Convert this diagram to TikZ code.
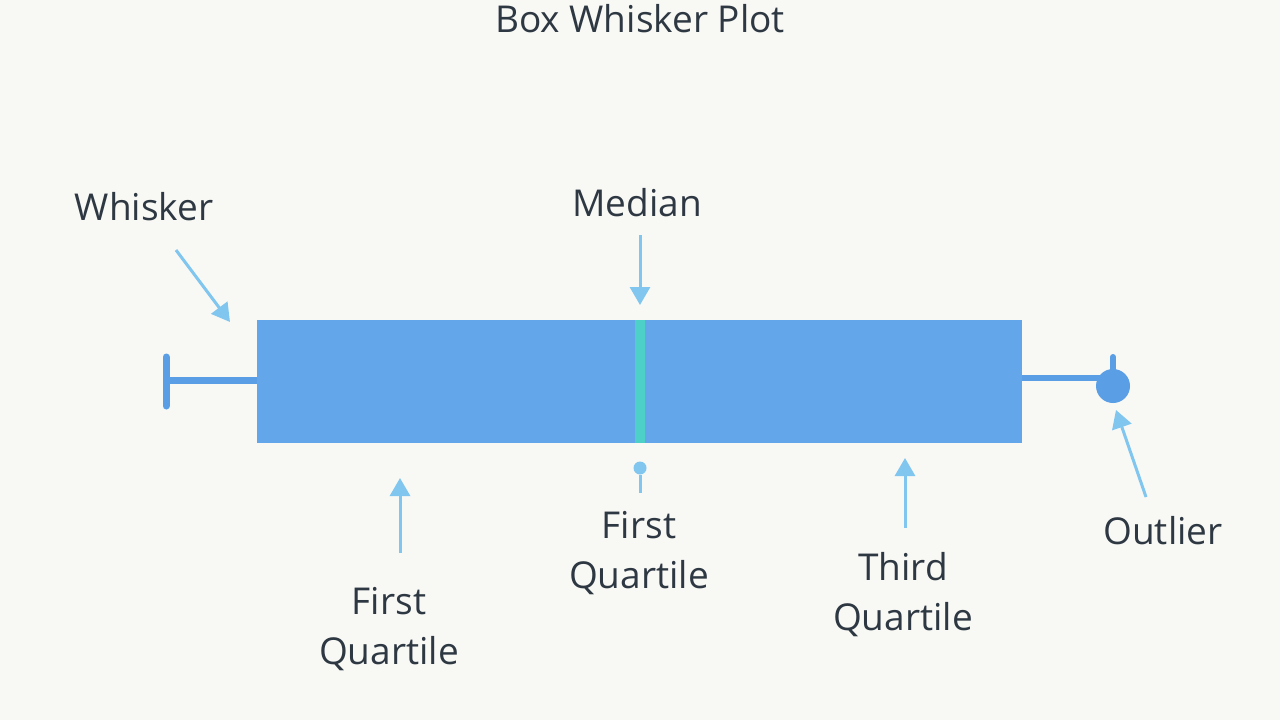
\documentclass[tikz,border=0pt]{standalone}
\usepackage{fontspec}
\setmainfont{Open Sans}
\usetikzlibrary{arrows.meta}
\definecolor{bg}{HTML}{F8F8F5}
\definecolor{boxc}{HTML}{63A7EA}
\definecolor{wc}{HTML}{5A9EE6}
\definecolor{arr}{HTML}{80C6EE}
\definecolor{medc}{HTML}{4CD0C8}
\definecolor{txt}{HTML}{2E3842}
\begin{document}
\begin{tikzpicture}[x=1pt,y=-1pt,
  lbl/.style={text=txt,font=\fontsize{37}{50}\selectfont,align=center,inner sep=0},
  pointer/.style={draw=arr,line width=3,-{Triangle[length=18,width=20]}}]
\fill[bg] (0,0) rectangle (1280,720);
\useasboundingbox (0,0) rectangle (1280,720);
\node[lbl] (title) at (640,19) {Box Whisker Plot};
\fill[boxc] (257,320) rectangle (1022,443);
\node[fill=medc,minimum width=10,minimum height=123,inner sep=0] (med) at (640,381.5) {};
\draw[wc,line width=7] (166,380) -- (257,380);
\draw[wc,line width=7,line cap=round] (166,357) -- (166,406);
\draw[wc,line width=6] (1022,378) -- (1105,378);
\draw[wc,line width=6,line cap=round] (1113,357) -- (1113,372);
\node[circle,fill=wc,minimum size=34,inner sep=0] (out) at (1113,386) {};
\node[lbl] (lw) at (144,207) {Whisker};
\node[lbl] (lm) at (637,203) {Median};
\node[lbl] (lq1) at (389,629) {First\\Quartile};
\node[lbl] (lq2) at (639,553) {First\\Quartile};
\node[lbl] (lq3) at (903,595) {Third\\Quartile};
\node[lbl] (lo) at (1163,531) {Outlier};
\coordinate (w1) at (176,250); \coordinate (w2) at (230,322);
\draw[pointer] (w1) -- (w2);
\coordinate (m1) at (640,235); \coordinate (m2) at (640,305);
\draw[pointer] (m1) -- (m2);
\coordinate (a1) at (400,553); \coordinate (a2) at (400,478);
\draw[pointer] (a1) -- (a2);
\coordinate (b1) at (905,528); \coordinate (b2) at (905,458);
\draw[pointer] (b1) -- (b2);
\coordinate (o1) at (1146,497);
\draw[pointer] (o1) -- (1116,410);
\coordinate (s1) at (640,493);
\node[circle,fill=arr,minimum size=13,inner sep=0] (dot) at (640,468) {};
\draw[arr,line width=3] (s1) -- (dot);
\end{tikzpicture}
\end{document}
